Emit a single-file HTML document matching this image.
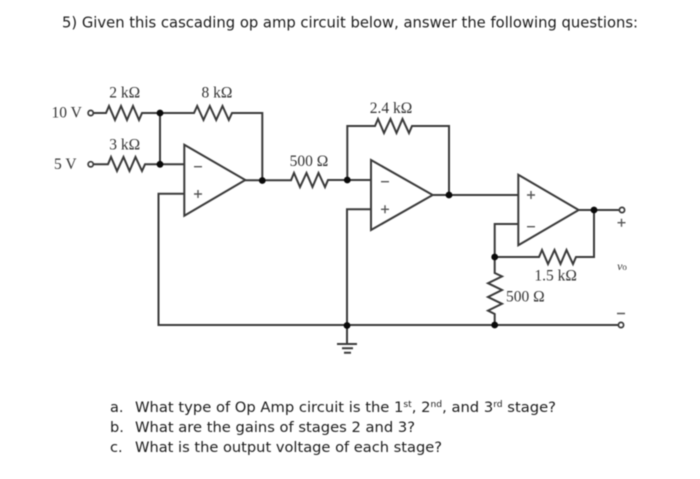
<!DOCTYPE html>
<html>
<head>
<meta charset="utf-8">
<style>
html,body{margin:0;padding:0;background:#fff;}
svg{display:block;}
.w{fill:none;stroke:#3a3a3a;stroke-width:2;stroke-linejoin:miter;}
.n{fill:#0a0a0a;}
.t{fill:#fff;stroke:#3a3a3a;stroke-width:1.7;}
.s{font-family:"Liberation Serif",serif;font-size:15.5px;fill:#333;}
.v{font-family:"DejaVu Sans",sans-serif;fill:#1c1c1c;}
</style>
</head>
<body>
<svg width="700" height="479" viewBox="0 0 700 479" xmlns="http://www.w3.org/2000/svg">
<rect width="700" height="479" fill="#fff"/>
<g style="filter:blur(0.4px)">
<text class="v" x="62" y="27.5" font-size="15" textLength="576" lengthAdjust="spacingAndGlyphs">5) Given this cascading op amp circuit below, answer the following questions:</text>

<path class="w" d="M94 113H106L109 106 115 120 121 106 127 120 133 106 139 120 142 113H194L197.2 106 203.5 120 209.8 106 216.2 120 222.5 106 228.8 120 232 113H262.3V180.7"/>
<path class="w" d="M94 164.3H108L111 157 117 171 123.5 157 129.5 171 135.5 157 142 171 145 164.3H184"/>
<path class="w" d="M160 113V164"/>
<path class="w" d="M184.3 144.7V215.7L245.3 180Z"/>
<path class="w" d="M184 193.7H158.5V325H618"/>
<path class="w" d="M245 180.3H291L294 173 300 187 306.5 173 312.5 187 318.5 173 325 187 328 180H371"/>
<path class="w" d="M347.3 180V126H375L378 119 384 133 390.5 119 396.5 133 402.5 119 409 133 412 126H449V195"/>
<path class="w" d="M371 160V230L432.7 195Z"/>
<path class="w" d="M371 209.3H347V344"/>
<path class="w" d="M432.7 195H449M449 195H518"/>
<path class="w" d="M518.3 174.7V245.3L578.7 210Z"/>
<path class="w" d="M578.7 210H619"/>
<path class="w" d="M594 210V257H576L573 264 566.5 250 560.5 264 554.5 250 548 264 542 250 539 257H495"/>
<path class="w" d="M518 224H494.7V273L502 276.4 488 283.2 502 290 488 297 502 303.8 488 310.6 494.7 314V325"/>
<path class="w" d="M337 344H357M342 348.3H353M344 352.7H351"/>

<circle class="n" cx="160" cy="113" r="3.4"/>
<circle class="n" cx="160" cy="164.3" r="3.4"/>
<circle class="n" cx="262.3" cy="180.5" r="3.4"/>
<circle class="n" cx="347.3" cy="180" r="3.4"/>
<circle class="n" cx="449" cy="195" r="3.4"/>
<circle class="n" cx="594" cy="210" r="3.4"/>
<circle class="n" cx="494.7" cy="257" r="3.4"/>
<circle class="n" cx="494.7" cy="325" r="3.4"/>
<circle class="n" cx="347" cy="325.5" r="3.4"/>
<circle class="t" cx="90.7" cy="113" r="2.6"/>
<circle class="t" cx="90.7" cy="164.3" r="2.6"/>
<circle class="t" cx="622" cy="210" r="2.6"/>
<circle class="t" cx="621" cy="325" r="2.6"/>

<text class="s" x="124.7" y="97.5" text-anchor="middle">2 kΩ</text>
<text class="s" x="217" y="97.5" text-anchor="middle">8 kΩ</text>
<text class="s" x="51.5" y="117.5">10 V</text>
<text class="s" x="124.7" y="149.5" text-anchor="middle">3 kΩ</text>
<text class="s" x="54" y="169">5 V</text>
<text class="s" x="391" y="113" text-anchor="middle">2.4 kΩ</text>
<text class="s" x="309" y="166" text-anchor="middle">500 Ω</text>
<text class="s" x="555.7" y="280.5" text-anchor="middle">1.5 kΩ</text>
<text class="s" x="506" y="301.5">500 Ω</text>
<text class="s" x="622" y="270" text-anchor="middle" style="font-size:12px;font-style:italic">v<tspan font-size="9" font-style="normal">o</tspan></text>

<path d="M194 166.7H202M198 190V198M194 194H202M381 181.7H389M385 205.3V213.3M381 209.3H389M527 195H535M531 191V199M527 226.7H535M617.5 222.7H625.5M621.5 218.7V226.7M617 313.5H625" fill="none" stroke="#555" stroke-width="1.4"/>

<text class="v" x="110" y="412" font-size="14.5">a.</text>
<text class="v" x="135" y="412" font-size="14.5" textLength="421" lengthAdjust="spacingAndGlyphs">What type of Op Amp circuit is the 1<tspan font-size="9" dy="-5">st</tspan><tspan dy="5">, 2</tspan><tspan font-size="9" dy="-5">nd</tspan><tspan dy="5">, and 3</tspan><tspan font-size="9" dy="-5">rd</tspan><tspan dy="5"> stage?</tspan></text>
<text class="v" x="110" y="432" font-size="14.5">b.</text>
<text class="v" x="135" y="432" font-size="14.5" textLength="280" lengthAdjust="spacingAndGlyphs">What are the gains of stages 2 and 3?</text>
<text class="v" x="110" y="452" font-size="14.5">c.</text>
<text class="v" x="135" y="452" font-size="14.5" textLength="307" lengthAdjust="spacingAndGlyphs">What is the output voltage of each stage?</text>
</g>
</svg>
</body>
</html>
